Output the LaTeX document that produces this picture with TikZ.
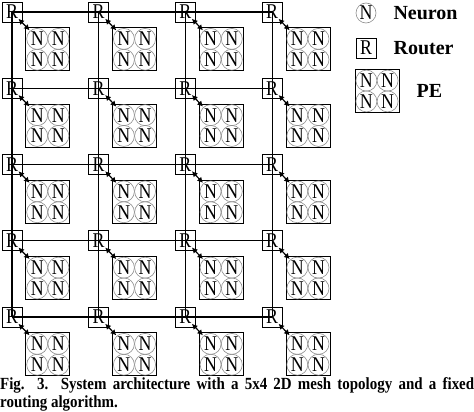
\documentclass[tikz,border=0pt]{standalone}
\usepackage{fontspec}
\setmainfont{Liberation Serif}
\newfontfamily\narrowfont{Liberation Serif}[FakeStretch=0.85]
\newfontfamily\capfont{Liberation Serif}[FakeStretch=0.88]
\usetikzlibrary{arrows.meta,positioning}

\tikzset{
  router/.style={draw, line width=0.8pt, minimum size=20pt, inner sep=0pt,
    font=\narrowfont\fontsize{21}{21}\selectfont},
  neuron/.style={circle, draw=black!45, line width=0.6pt, minimum size=21pt, inner sep=0pt,
    font=\narrowfont\fontsize{21}{21}\selectfont},
  pebox/.style={draw, line width=0.8pt, minimum width=44pt, minimum height=43pt, inner sep=0pt},
  link/.style={line width=1.1pt},
  lbl/.style={inner sep=0pt, font=\bfseries\fontsize{20}{20}\selectfont}
}

\begin{document}
\begin{tikzpicture}[x=1pt, y=-1pt, >={Latex[length=5.5pt,width=6pt]}]
  \useasboundingbox (0,0) rectangle (474,412);

  % Routers of the 4x5 mesh
  \foreach \c in {1,...,4}
    \foreach \r in {1,...,5} {
      \node[router] (r-\c-\r) at ({12+86.7*(\c-1)}, {12+76.25*(\r-1)}) {R};
    }

  % Mesh links
  \foreach \r in {1,...,5}
    \draw[link] (r-1-\r.center) -- (r-4-\r.center);
  \foreach \c in {1,...,4}
    \draw[link] (r-\c-1.center) -- (r-\c-5.center);

  % PEs with four neurons each
  \foreach \c in {1,...,4}
    \foreach \r in {1,...,5} {
      \node[pebox, below right=5pt and 3pt of r-\c-\r] (pe-\c-\r) {};
      \foreach \dx/\dy [count=\i] in {-1/-1, 1/-1, -1/1, 1/1}
        \node[neuron] (n-\c-\r-\i) at ([shift={(10.6*\dx,10.4*\dy)}]pe-\c-\r.center) {N};
      \draw[<->, line width=1.2pt, shorten <=-5pt, shorten >=-4pt] (r-\c-\r) -- (pe-\c-\r);
    }

  % Legend
  \node[neuron, minimum size=20pt] (lg-n) at (366,13) {N};
  \node[router] (lg-r) at (366,48) {R};
  \node[pebox] (lg-pe) at (377,91) {};
  \foreach \dx/\dy [count=\i] in {-1/-1, 1/-1, -1/1, 1/1}
    \node[neuron] (lg-n-\i) at ([shift={(10.6*\dx,10.4*\dy)}]lg-pe.center) {N};
  \node[lbl, right=17pt of lg-n] (lg-n-txt) {Neuron};
  \node[lbl, right=17pt of lg-r] (lg-r-txt) {Router};
  \node[lbl, right=17pt of lg-pe] (lg-pe-txt) {PE};

  % Caption
  \node[anchor=base west, inner sep=0pt, font=\capfont\bfseries\fontsize{17}{17}\selectfont] (cap-a) at (0,389)
    {\makebox[474pt][s]{Fig. 3. System architecture with a 5x4 2D mesh topology and a fixed}};
  \node[anchor=base west, inner sep=0pt, font=\capfont\bfseries\fontsize{17}{17}\selectfont] (cap-b) at (0,407)
    {routing algorithm.};
\end{tikzpicture}
\end{document}
